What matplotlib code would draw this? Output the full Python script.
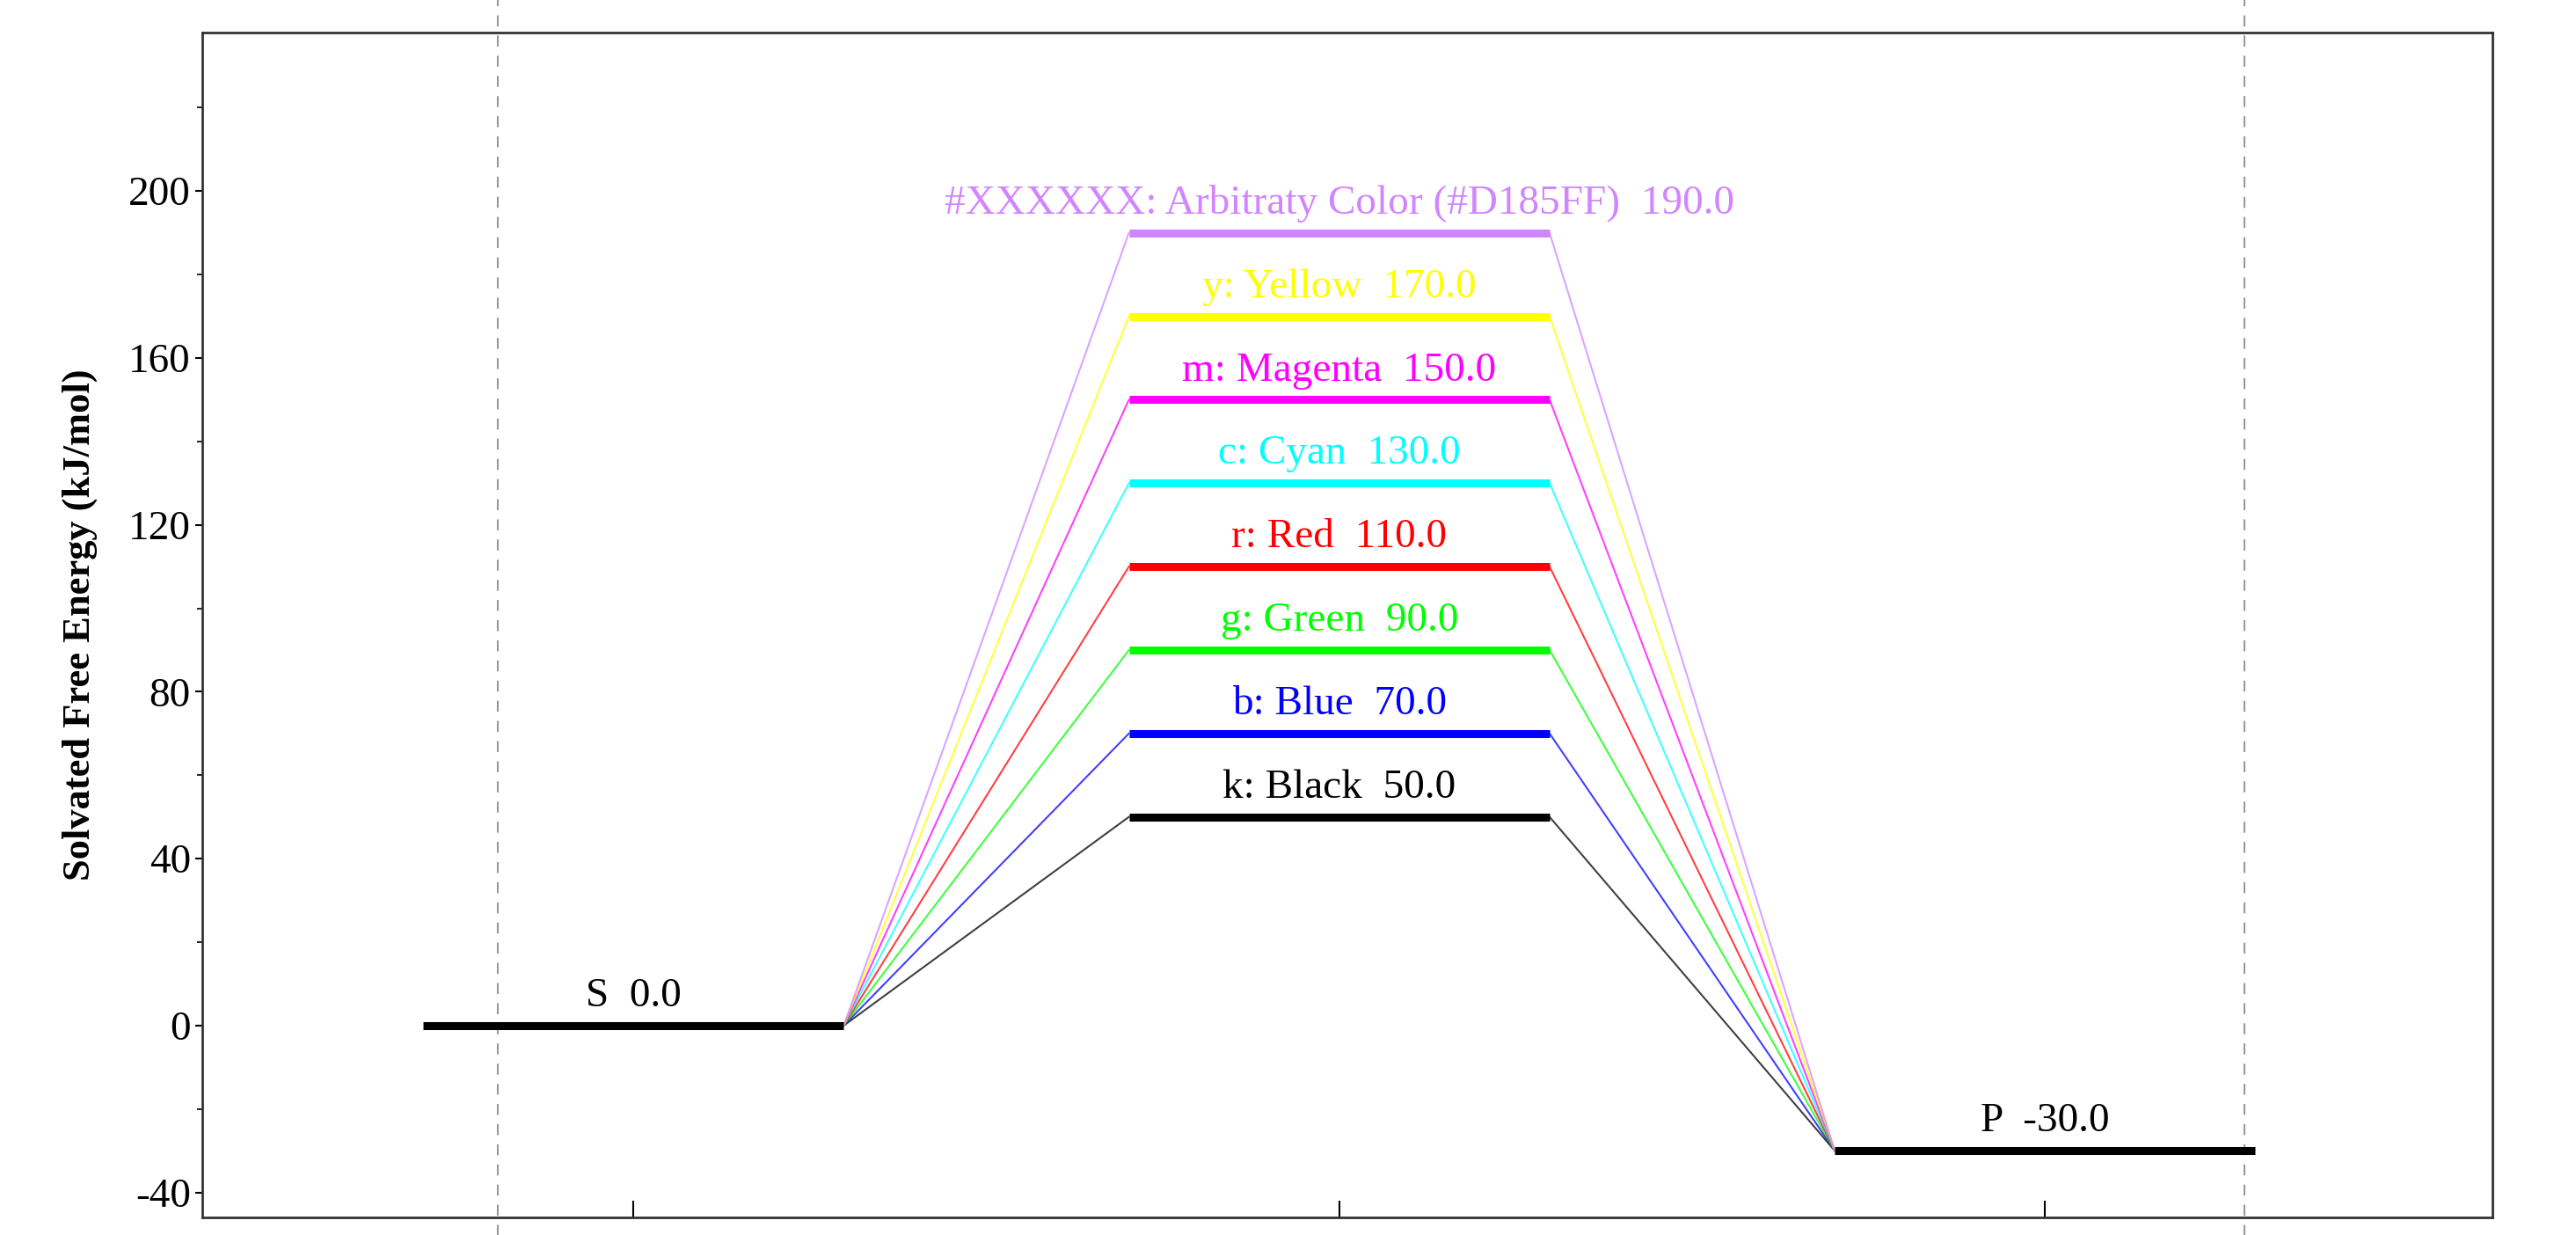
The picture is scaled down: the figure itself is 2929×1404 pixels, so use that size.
import matplotlib.pyplot as plt

plt.rcParams['font.family'] = ['Liberation Serif', 'DejaVu Serif']
plt.rcParams['axes.unicode_minus'] = False

ts_names = ["k: Black", "b: Blue", "g: Green", "r: Red", "c: Cyan",
            "m: Magenta", "y: Yellow", "#XXXXXX: Arbitraty Color (#D185FF)"]
ts_colors = ["#000000", "#0000FF", "#00FF00", "#FF0000", "#00FFFF",
             "#FF00FF", "#FFFF00", "#D185FF"]
ts_energies = [50.0, 70.0, 90.0, 110.0, 130.0, 150.0, 170.0, 190.0]
s_energy = 0.0
p_energy = -30.0
positions = [1, 2, 3]
half = 0.298

fig = plt.figure(figsize=(29.29, 14.04), dpi=100)
ax = fig.add_axes([230 / 2929, 20 / 1404, (2834 - 230) / 2929, (1384 - 37) / 1404])

# S and P levels
ax.plot([positions[0] - half, positions[0] + half], [s_energy] * 2, color="k", lw=6.5, solid_capstyle="butt", zorder=3)
ax.text(positions[0], s_energy + 2.5, f"S  {s_energy:.1f}", ha="center", va="bottom", fontsize=34)
ax.plot([positions[2] - half, positions[2] + half], [p_energy] * 2, color="k", lw=6.5, solid_capstyle="butt", zorder=3)
ax.text(positions[2], p_energy + 2.5, f"P  {p_energy:.1f}", ha="center", va="bottom", fontsize=34)

for name, col, e in zip(ts_names, ts_colors, ts_energies):
    ax.plot([positions[0] + half, positions[1] - half], [s_energy, e], color=col, lw=1.5, alpha=0.75)
    ax.plot([positions[1] + half, positions[2] - half], [e, p_energy], color=col, lw=1.5, alpha=0.75)
    ax.plot([positions[1] - half, positions[1] + half], [e, e], color=col, lw=6.5, solid_capstyle="butt", zorder=3)
    ax.text(positions[1], e + 2.5, f"{name}  {e:.1f}", ha="center", va="bottom", fontsize=34, color=col)

ax.set_xlim(0.389, 3.634)
ax.set_ylim(-46, 238)
ax.set_yticks([-40, 0, 40, 80, 120, 160, 200])
ax.set_yticks(range(-40, 240, 20), minor=True)
ax.set_xticks(positions)
ax.set_xticklabels([])
ax.tick_params(axis="y", labelsize=34, length=6, width=1.5, direction="out")
ax.tick_params(axis="y", which="minor", length=4, width=1.2)
ax.tick_params(axis="x", direction="in", length=14, width=1.5)
ax.set_ylabel("Solvated Free Energy (kJ/mol)", fontsize=32, fontweight="bold", labelpad=25)
for sp in ax.spines.values():
    sp.set_linewidth(2)
    sp.set_color("#333333")

for xv in [0.808, 3.283]:
    ax.axvline(xv, ymin=-0.1, ymax=1.1, color="#999999", ls=(0, (6, 5)), lw=1.5, clip_on=False)

fig.savefig("out.png", dpi=100)
